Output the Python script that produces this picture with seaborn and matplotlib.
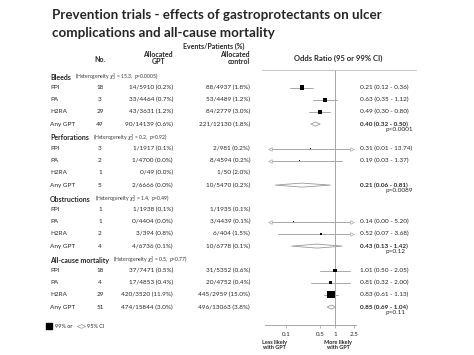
import numpy as np
import pandas as pd
import matplotlib
matplotlib.use("Agg")
import matplotlib.pyplot as plt
import seaborn as sns
from matplotlib.lines import Line2D
from matplotlib.path import Path

# ---- data ----
groups = ["Bleeds", "Perforations", "Obstructions", "All-cause mortality"]
het_chi = ["15.3", "0.2", "1.4", "0.5"]
het_p = ["p=0.0005", "p=0.92", "p=0.49", "p=0.77"]
drugs = ["PPI", "PA", "H2RA", "Any GPT"]

n_trials = [[18, 3, 29, 49], [3, 2, 1, 5], [1, 1, 2, 4], [18, 4, 29, 51]]
gpt_events = [
    ["14/5910 (0.2%)", "33/4464 (0.7%)", "43/3631 (1.2%)", "90/14139 (0.6%)"],
    ["1/1917 (0.1%)", "1/4700 (0.0%)", "0/49 (0.0%)", "2/6666 (0.0%)"],
    ["1/1938 (0.1%)", "0/4404 (0.0%)", "3/394 (0.8%)", "4/6736 (0.1%)"],
    ["37/7471 (0.5%)", "17/4853 (0.4%)", "420/3520 (11.9%)", "474/15844 (3.0%)"],
]
ctrl_events = [
    ["88/4937 (1.8%)", "53/4489 (1.2%)", "84/2779 (3.0%)", "221/12130 (1.8%)"],
    ["2/981 (0.2%)", "8/4594 (0.2%)", "1/50 (2.0%)", "10/5470 (0.2%)"],
    ["1/1935 (0.1%)", "3/4439 (0.1%)", "6/404 (1.5%)", "10/6778 (0.1%)"],
    ["31/5352 (0.6%)", "20/4752 (0.4%)", "445/2959 (15.0%)", "496/13063 (3.8%)"],
]
odds = [[0.21, 0.63, 0.49, 0.40], [0.31, 0.19, np.nan, 0.21],
        [np.nan, 0.14, 0.52, 0.43], [1.01, 0.81, 0.83, 0.85]]
ci_low = [[0.12, 0.35, 0.30, 0.32], [0.01, 0.03, np.nan, 0.06],
          [np.nan, 0.00, 0.07, 0.13], [0.50, 0.32, 0.61, 0.69]]
ci_high = [[0.36, 1.12, 0.80, 0.50], [13.74, 1.37, np.nan, 0.81],
           [np.nan, 5.20, 3.68, 1.42], [2.05, 2.00, 1.13, 1.04]]
overall_p = ["p<0.0001", "p=0.0089", "p=0.12", "p=0.11"]
# box sizes (relative study weight)
box_area = [[9, 9, 11, 0], [0.6, 0.8, 0, 0], [0, 0.8, 0.8, 0], [7, 4, 26, 0]]

xticks = [0.1, 0.5, 1, 2.5]

# ---- figure ----
sns.set_theme(style="white")
plt.rcParams['font.family'] = ['Lato', 'DejaVu Sans']

W, H = 474, 355
fig = plt.figure(figsize=(W / 100, H / 100), dpi=100)
renderer = fig.canvas.get_renderer()

def fx(px):
    return px / W

def fy(py):
    return 1 - py / H

ax_left, ax_right, ax_top, ax_bot = 265, 356, 70, 325
ax = fig.add_axes([fx(ax_left), fy(ax_bot), fx(ax_right - ax_left), (ax_bot - ax_top) / H])
ax.set_xscale('log')
xmin = 10 ** ((ax_left - 335) / 49)
xmax = 10 ** ((ax_right - 335) / 49)
ax.set_xlim(xmin, xmax)
ax.set_ylim(ax_bot, ax_top)

# title
fig.text(fx(52), fy(15), "Prevention trials - effects of gastroprotectants on ulcer",
         fontsize=9.6, fontweight='bold', va='center', ha='left')
fig.text(fx(52), fy(33), "complications and all-cause mortality",
         fontsize=9.6, fontweight='bold', va='center', ha='left')

# column headers
hfs = 5
fig.text(fx(214), fy(46), "Events/Patients (%)", fontsize=hfs, fontweight='bold', ha='center', va='center')
fig.text(fx(100), fy(59), "No.", fontsize=hfs, fontweight='bold', ha='center', va='center')
fig.text(fx(173), fy(58), "Allocated\nGPT", fontsize=hfs, fontweight='bold', ha='right', va='center',
         multialignment='center', linespacing=1.0)
fig.text(fx(250), fy(58), "Allocated\ncontrol", fontsize=hfs, fontweight='bold', ha='right', va='center',
         multialignment='right', linespacing=1.0)
fig.text(fx(338), fy(58), "Odds Ratio (95 or 99% CI)", fontsize=5.5, fontweight='bold',
         ha='center', va='center')
fig.add_artist(Line2D([fx(262), fx(416)], [fy(70), fy(70)], color='#bbbbbb', lw=0.6))

tfs = 4.6
gray = '#a8a8a8'
rows = []
for g in range(4):
    gy = 77 + 61 * g
    t = fig.text(fx(50), fy(gy), groups[g], fontsize=5, fontweight='bold', ha='left', va='center')
    x_end = t.get_window_extent(renderer).x1
    fig.text(fx(x_end + 4), fy(gy - 0.5),
             r"(Heterogeneity $\chi^2_2$ = " + het_chi[g] + ",  " + het_p[g] + ")",
             fontsize=3.6, ha='left', va='center', color='#333333')
    for i in range(4):
        y = gy + 10.5 + 12.2 * i
        fig.text(fx(50), fy(y), drugs[i], fontsize=tfs, ha='left', va='center')
        fig.text(fx(100), fy(y), str(n_trials[g][i]), fontsize=tfs, ha='center', va='center')
        fig.text(fx(173), fy(y), gpt_events[g][i], fontsize=tfs, ha='right', va='center')
        fig.text(fx(250), fy(y), ctrl_events[g][i], fontsize=tfs, ha='right', va='center')
        o, lo, hi = odds[g][i], ci_low[g][i], ci_high[g][i]
        if np.isnan(o):
            continue
        bold = i == 3
        fig.text(fx(360), fy(y), f"{o:.2f} ({lo:.2f} - {hi:.2f})", fontsize=tfs,
                 fontweight='bold' if bold else 'normal', ha='left', va='center')
        if bold:
            fig.text(fx(386), fy(y + 5.5), overall_p[g], fontsize=tfs, ha='left', va='center')
        rows.append(dict(y=y, o=o, lo=lo, hi=hi, box=box_area[g][i], overall=bold))

df = pd.DataFrame(rows)

# forest marks
lo_clip, hi_clip = 10 ** ((270 - 335) / 49), 10 ** ((352 - 335) / 49)
for _, r in df.iterrows():
    if r.overall:
        h = 2.0
        ax.fill([r.lo, r.o, r.hi, r.o], [r.y, r.y - h, r.y, r.y + h],
                facecolor='white', edgecolor='#999999', lw=0.6, zorder=3)
        continue
    a, b = max(r.lo, lo_clip), min(r.hi, hi_clip)
    ax.plot([a, b], [r.y, r.y], color=gray, lw=0.7, zorder=2)
    if r.lo < lo_clip:
        ax.plot([a], [r.y], marker='<', ms=2.6, mfc='white', mec=gray, mew=0.5, zorder=2)
    if r.hi > hi_clip:
        ax.plot([b], [r.y], marker='>', ms=2.6, mfc='white', mec=gray, mew=0.5, zorder=2)

boxes = df[~df.overall]
sns.scatterplot(data=boxes, x='o', y='y', size='box',
                sizes={v: v for v in boxes['box'].unique()},
                marker='s', color='black', edgecolor='black', linewidth=0,
                legend=False, ax=ax, zorder=4)

ax.axvline(1, color='#999999', lw=0.6, zorder=1)

for s in ['top', 'right', 'left']:
    ax.spines[s].set_visible(False)
ax.spines['bottom'].set_color('#999999')
ax.spines['bottom'].set_linewidth(0.6)
ax.set_yticks([])
ax.set_xticks(xticks)
ax.set_xticklabels(["0.1", "0.5", "1", "2.5"])
ax.xaxis.set_minor_locator(matplotlib.ticker.NullLocator())
ax.tick_params(axis='x', labelsize=4.5, length=2, width=0.5, color='#999999', pad=3, bottom=True)
ax.set_xlabel("")
ax.set_ylabel("")
ax.patch.set_alpha(0)

fig.text(fx(274), fy(345), "Less likely\nwith GPT", fontsize=4, fontweight='bold',
         ha='center', va='center', linespacing=1.1)
fig.text(fx(338), fy(345), "More likely\nwith GPT", fontsize=4, fontweight='bold',
         ha='center', va='center', linespacing=1.1)

# legend
diamond = Path([(-1, 0), (0, 0.45), (1, 0), (0, -0.45), (-1, 0)],
               [Path.MOVETO, Path.LINETO, Path.LINETO, Path.LINETO, Path.CLOSEPOLY])
handles = [Line2D([], [], marker='s', color='black', ls='', ms=4),
           Line2D([], [], marker=diamond, mfc='white', mec='#999999', ls='', ms=6, mew=0.5)]
fig.legend(handles, ["99% or", "95% CI"], loc='center left', bbox_to_anchor=(fx(46), fy(326)),
           ncol=2, frameon=False, fontsize=4, handlelength=1.2, handletextpad=0.4,
           columnspacing=1.0, borderpad=0, borderaxespad=0)

fig.savefig("out.png", dpi=100)
